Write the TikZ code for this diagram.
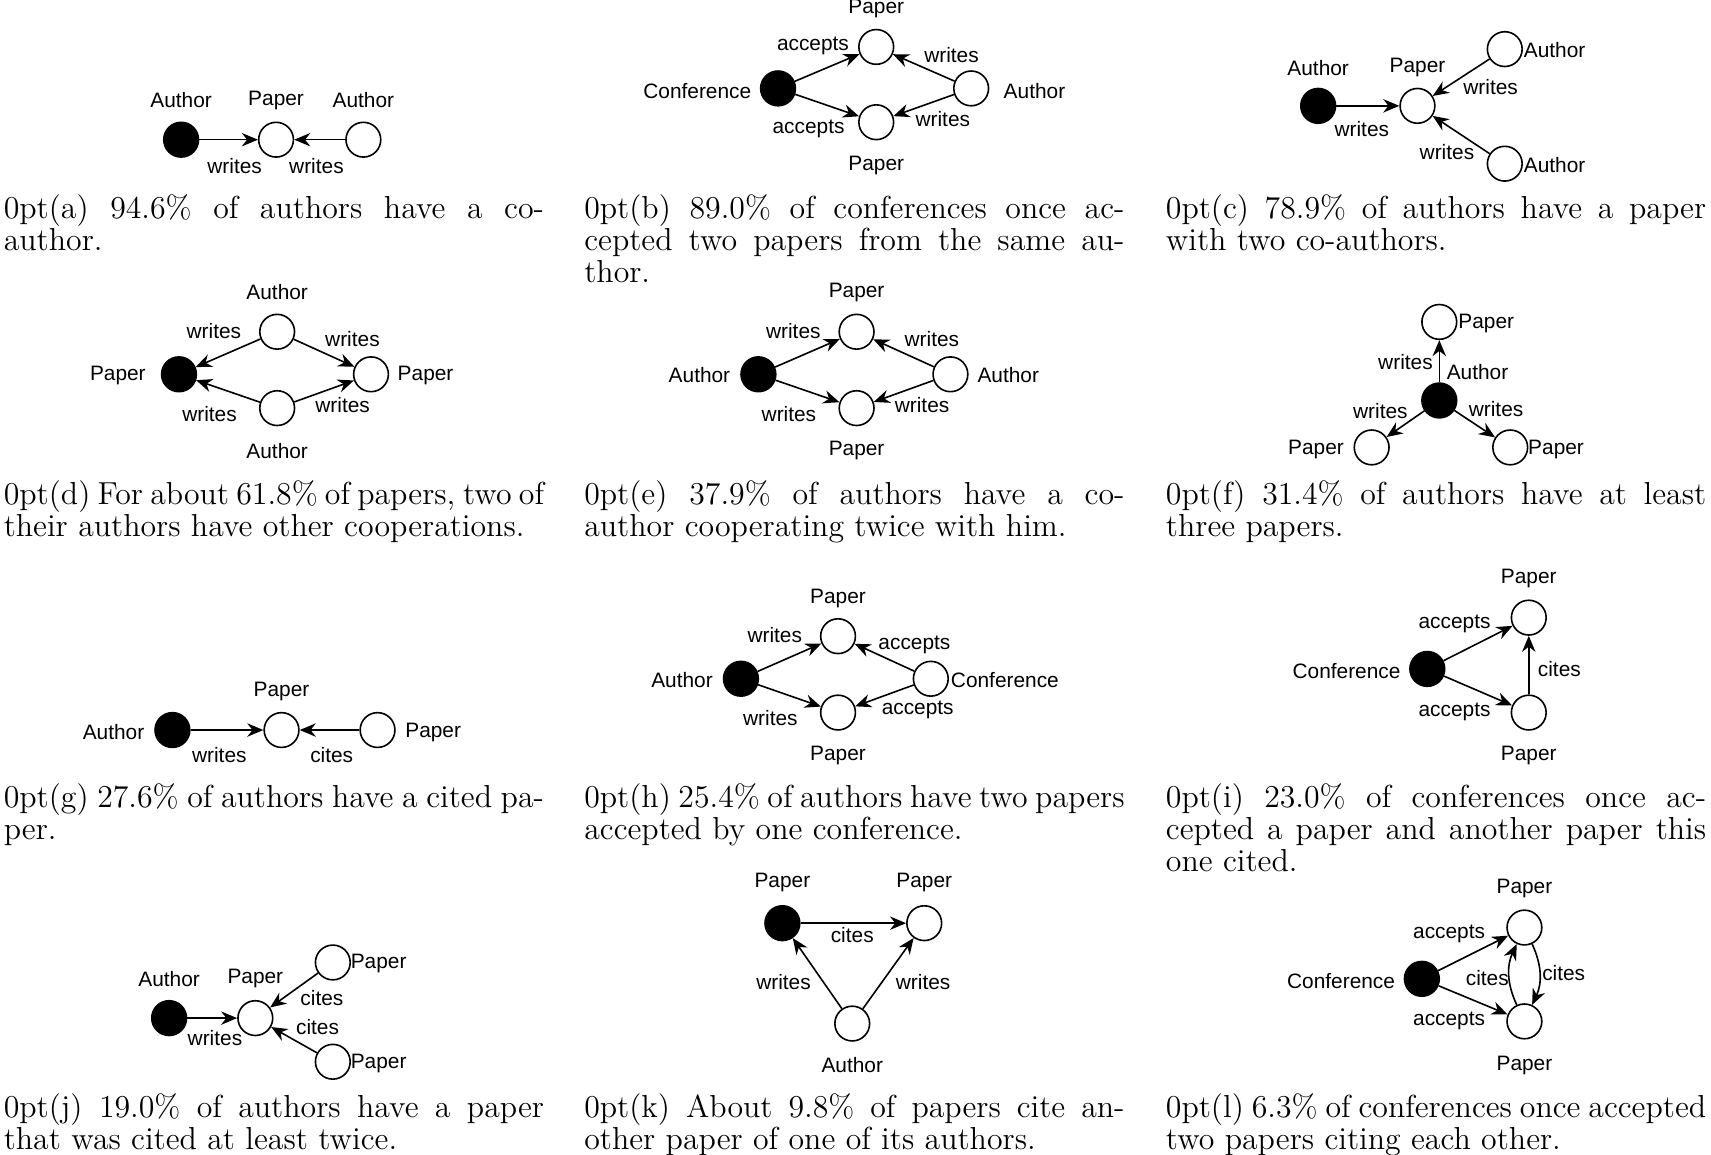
\documentclass[tikz,border=0pt]{standalone}
\usepackage{fontspec}
\newfontfamily\labfont{Liberation Sans}
\usetikzlibrary{arrows.meta}
\begin{document}
\begin{tikzpicture}[x=0.408pt,y=-0.408pt,
  b/.style={circle,fill=black,draw=black,line width=0.6pt,minimum size=13pt,inner sep=0pt},
  w/.style={circle,fill=white,draw=black,line width=0.6pt,minimum size=13pt,inner sep=0pt},
  t/.style={font=\labfont\fontsize{7.8}{9}\selectfont,inner sep=0pt},
  e/.style={draw,line width=0.6pt,-{Stealth[length=6pt,width=5pt]}},
  capt/.style={anchor=north west,inner sep=0pt,text width=202pt,align=justify,font=\fontsize{11.9}{11.9}\selectfont\hyphenpenalty=10000\exhyphenpenalty=10000}]
\useasboundingbox (0,0) rectangle (1568,1058);
% (a)
\node[b] (a1) at (166,128) {}; \node[w] (ap) at (253,128) {}; \node[w] (a2) at (333,128) {};
\node[t] (la1) at (166,92) {Author}; \node[t] (lap) at (253,92) {Paper}; \node[t] (la2) at (333,92) {Author};
\draw[e] (a1) -- (ap); \draw[e] (a2) -- (ap);
\node[t] (ea1) at (215,152) {writes}; \node[t] (ea2) at (290,152) {writes};
\node[capt] (ca) at (3,178) {(a) 94.6\% of authors have a co-author.};
% (b)
\node[b] (b1) at (713,81) {}; \node[w] (bt) at (803,43) {}; \node[w] (bb) at (803,112) {}; \node[w] (ba) at (890,81) {};
\node[t] (lb1) at (803,8) {Paper}; \node[t] (lb2) at (803,152) {Paper};
\node[t] (lb3) at (639,83) {Conference}; \node[t] (lb4) at (948,83) {Author};
\draw[e] (b1) -- (bt); \draw[e] (b1) -- (bb); \draw[e] (ba) -- (bt); \draw[e] (ba) -- (bb);
\node[t] (eb1) at (745,42) {accepts}; \node[t] (eb2) at (741,118) {accepts};
\node[t] (eb3) at (872,50) {writes}; \node[t] (eb4) at (864,109) {writes};
\node[capt] (cb) at (535,178) {(b) 89.0\% of conferences once accepted two papers from the same author.};
% (c)
\node[b] (c1) at (1208,97) {}; \node[w] (cp) at (1299,97) {}; \node[w] (ct) at (1379,45) {}; \node[w] (cbn) at (1379,150) {};
\node[t] (lc1) at (1208,62) {Author}; \node[t] (lc2) at (1299,62) {Paper};
\node[t,anchor=west] (lc3) at (1396,46) {Author}; \node[t,anchor=west] (lc4) at (1396,151) {Author};
\draw[e] (c1) -- (cp); \draw[e] (ct) -- (cp); \draw[e] (cbn) -- (cp);
\node[t] (ec1) at (1248,118) {writes}; \node[t] (ec2) at (1366,80) {writes}; \node[t] (ec3) at (1326,139) {writes};
\node[capt] (cc) at (1068,178) {(c) 78.9\% of authors have a paper with two co-authors.};
% (d)
\node[b] (d1) at (164,343) {}; \node[w] (dt) at (254,304) {}; \node[w] (db) at (254,374) {}; \node[w] (dp) at (340,343) {};
\node[t] (ld1) at (254,268) {Author}; \node[t] (ld2) at (254,413) {Author};
\node[t] (ld3) at (108,344) {Paper}; \node[t] (ld4) at (390,344) {Paper};
\draw[e] (dt) -- (d1); \draw[e] (db) -- (d1); \draw[e] (dt) -- (dp); \draw[e] (db) -- (dp);
\node[t] (ed1) at (196,303) {writes}; \node[t] (ed2) at (192,379) {writes};
\node[t] (ed3) at (323,311) {writes}; \node[t] (ed4) at (314,371) {writes};
\node[capt] (cd) at (3,440) {(d) For about 61.8\% of papers, two of their authors have other cooperations.};
% (e)
\node[b] (e1) at (695,343) {}; \node[w] (et) at (785,304) {}; \node[w] (eb) at (785,374) {}; \node[w] (ea) at (871,343) {};
\node[t] (le1) at (785,268) {Paper}; \node[t] (le2) at (785,413) {Paper};
\node[t] (le3) at (641,344) {Author}; \node[t] (le4) at (924,344) {Author};
\draw[e] (e1) -- (et); \draw[e] (e1) -- (eb); \draw[e] (ea) -- (et); \draw[e] (ea) -- (eb);
\node[t] (ee1) at (727,303) {writes}; \node[t] (ee2) at (723,379) {writes};
\node[t] (ee3) at (854,311) {writes}; \node[t] (ee4) at (845,371) {writes};
\node[capt] (ce) at (535,440) {(e) 37.9\% of authors have a co-author cooperating twice with him.};
% (f)
\node[b] (f1) at (1319,367) {}; \node[w] (ft) at (1319,295) {}; \node[w] (fl) at (1257,410) {}; \node[w] (fr) at (1384,410) {};
\node[t,anchor=west] (lf1) at (1336,296) {Paper}; \node[t] (lf2) at (1354,341) {Author};
\node[t] (lf3) at (1206,412) {Paper}; \node[t] (lf4) at (1426,412) {Paper};
\draw[e] (f1) -- (ft); \draw[e] (f1) -- (fl); \draw[e] (f1) -- (fr);
\node[t] (ef1) at (1288,332) {writes}; \node[t] (ef2) at (1265,377) {writes}; \node[t] (ef3) at (1371,375) {writes};
\node[capt] (cf) at (1068,440) {(f) 31.4\% of authors have at least three papers.};
% (g)
\node[b] (g1) at (158,669) {}; \node[w] (gp) at (258,669) {}; \node[w] (gw) at (346,669) {};
\node[t] (lg1) at (104,671) {Author}; \node[t] (lg2) at (258,634) {Paper}; \node[t] (lg3) at (397,671) {Paper};
\draw[e] (g1) -- (gp); \draw[e] (gw) -- (gp);
\node[t] (eg1) at (201,692) {writes}; \node[t] (eg2) at (304,692) {cites};
\node[capt] (cg) at (3,718) {(g) 27.6\% of authors have a cited paper.};
% (h)
\node[b] (h1) at (679,622) {}; \node[w] (ht) at (768,583) {}; \node[w] (hb) at (768,653) {}; \node[w] (hc) at (853,622) {};
\node[t] (lh1) at (768,548) {Paper}; \node[t] (lh2) at (768,692) {Paper};
\node[t] (lh3) at (625,623) {Author}; \node[t,anchor=west] (lh4) at (871,623) {Conference};
\draw[e] (h1) -- (ht); \draw[e] (h1) -- (hb); \draw[e] (hc) -- (ht); \draw[e] (hc) -- (hb);
\node[t] (eh1) at (710,582) {writes}; \node[t] (eh2) at (706,658) {writes};
\node[t] (eh3) at (838,591) {accepts}; \node[t] (eh4) at (841,651) {accepts};
\node[capt] (ch) at (535,718) {(h) 25.4\% of authors have two papers accepted by one conference.};
% (i)
\node[b] (i1) at (1308,613) {}; \node[w] (it) at (1401,566) {}; \node[w] (ib) at (1401,653) {};
\node[t] (li1) at (1401,530) {Paper}; \node[t] (li2) at (1401,692) {Paper}; \node[t] (li3) at (1234,615) {Conference};
\draw[e] (i1) -- (it); \draw[e] (i1) -- (ib); \draw[e] (ib) -- (it);
\node[t] (ei1) at (1333,572) {accepts}; \node[t] (ei2) at (1333,652) {accepts}; \node[t] (ei3) at (1429,613) {cites};
\node[capt] (ci) at (1068,718) {(i) 23.0\% of conferences once accepted a paper and another paper this one cited.};
% (j)
\node[b] (j1) at (155,933) {}; \node[w] (jp) at (234,933) {}; \node[w] (jt) at (305,882) {}; \node[w] (jb) at (305,973) {};
\node[t] (lj1) at (155,897) {Author}; \node[t] (lj2) at (234,897) {Paper};
\node[t,anchor=west] (lj3) at (321,883) {Paper}; \node[t,anchor=west] (lj4) at (321,975) {Paper};
\draw[e] (j1) -- (jp); \draw[e] (jt) -- (jp); \draw[e] (jb) -- (jp);
\node[t] (ej1) at (197,951) {writes}; \node[t] (ej2) at (295,915) {cites}; \node[t] (ej3) at (291,941) {cites};
\node[capt] (cj) at (3,1002) {(j) 19.0\% of authors have a paper that was cited at least twice.};
% (k)
\node[b] (k1) at (717,846) {}; \node[w] (kw) at (847,846) {}; \node[w] (ka) at (781,938) {};
\node[t] (lk1) at (717,809) {Paper}; \node[t] (lk2) at (847,809) {Paper}; \node[t] (lk3) at (781,976) {Author};
\draw[e] (k1) -- (kw); \draw[e] (ka) -- (k1); \draw[e] (ka) -- (kw);
\node[t] (ek1) at (781,857) {cites}; \node[t] (ek2) at (718,900) {writes}; \node[t] (ek3) at (846,900) {writes};
\node[capt] (ck) at (535,1002) {(k) About 9.8\% of papers cite another paper of one of its authors.};
% (l)
\node[b] (l1) at (1303,897) {}; \node[w] (lt) at (1397,850) {}; \node[w] (lb) at (1397,936) {};
\node[t] (ll1) at (1397,814) {Paper}; \node[t] (ll2) at (1397,976) {Paper}; \node[t] (ll3) at (1229,899) {Conference};
\draw[e] (l1) -- (lt); \draw[e] (l1) -- (lb);
\draw[e] (lt) to[bend left=25] (lb); \draw[e] (lb) to[bend left=25] (lt);
\node[t] (el1) at (1328,856) {accepts}; \node[t] (el2) at (1328,936) {accepts};
\node[t] (el3) at (1433,892) {cites}; \node[t] (el4) at (1363,896) {cites};
\node[capt] (cl) at (1068,1002) {(l) 6.3\% of conferences once accepted two papers citing each other.};
\end{tikzpicture}
\end{document}
